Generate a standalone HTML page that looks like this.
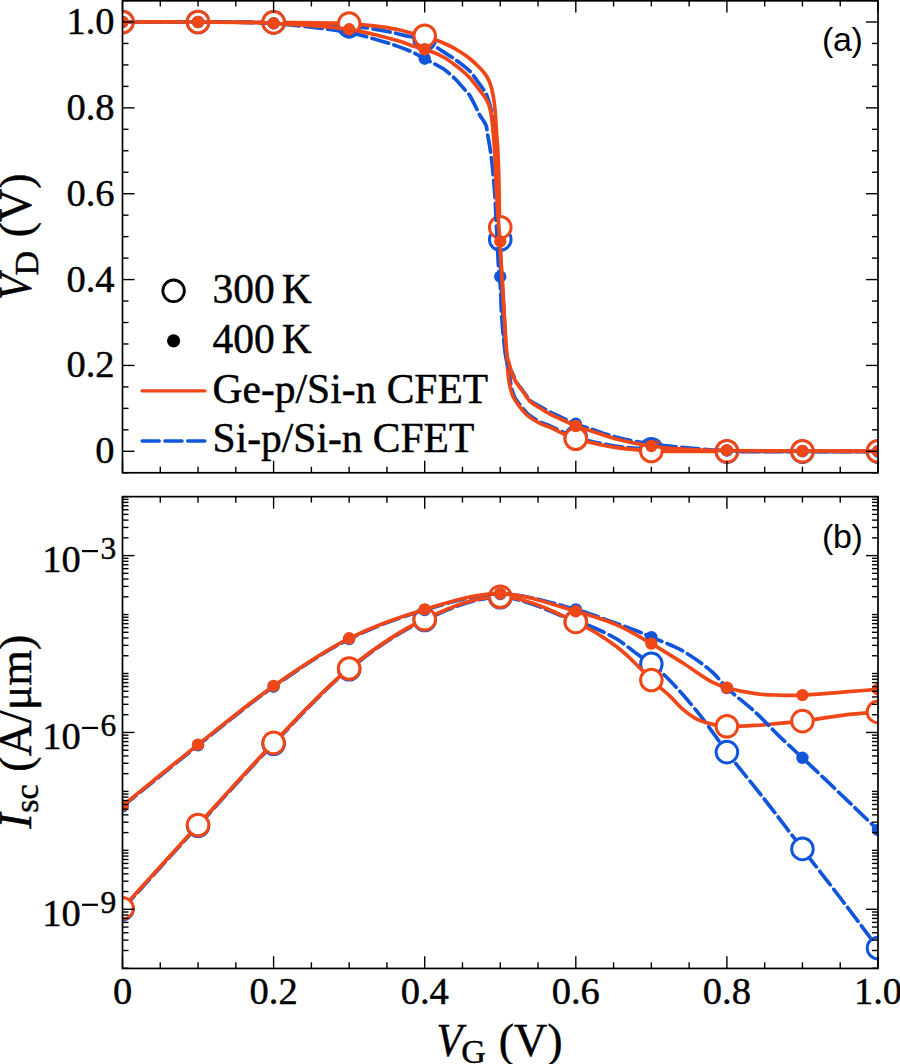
<!DOCTYPE html>
<html><head><meta charset="utf-8"><style>
html,body{margin:0;padding:0;background:#fff;width:900px;height:1064px;overflow:hidden}
svg{display:block}
svg text:not(.ns){stroke:#000;stroke-width:0.45px}
</style></head><body>
<svg width="900" height="1064" viewBox="0 0 900 1064">
<defs><clipPath id="ct"><rect x="122.5" y="0.5349999999999682" width="755.5" height="472.23"/></clipPath>
<clipPath id="cb"><rect x="122.5" y="496.65000000000003" width="755.5" height="471.59999999999997"/></clipPath></defs>
<g clip-path="url(#ct)"><path d="M122.50,22.00C147.68,22.00 172.87,21.88 198.05,22.00C223.23,22.12 248.42,22.03 273.60,22.70C298.79,23.37 334.17,24.96 349.15,26.00C355.50,26.44 357.29,26.56 362.70,27.30C370.87,28.41 384.76,30.93 393.30,32.70C399.51,33.98 404.01,35.36 409.30,36.50C414.47,37.62 419.87,37.53 424.70,39.50C429.69,41.53 433.69,45.38 438.70,48.70C444.53,52.56 451.95,57.12 457.60,61.30C462.49,64.92 467.82,68.97 470.80,72.10C472.65,74.05 473.11,75.21 474.70,77.40C477.25,80.91 482.45,87.63 484.60,91.20C485.86,93.29 486.32,94.13 487.20,96.40C488.70,100.30 490.67,107.31 491.80,112.90C492.94,118.51 493.37,123.49 494.00,130.00C494.84,138.59 495.42,150.00 496.00,160.00C496.58,170.00 497.03,180.46 497.50,190.00C497.93,198.71 498.35,206.71 498.70,215.00C499.05,223.21 499.29,231.51 499.60,239.50C499.89,247.16 500.19,254.09 500.50,262.00C500.85,270.82 501.14,280.51 501.60,290.00C502.07,299.83 502.74,310.46 503.30,320.00C503.81,328.71 504.27,338.02 504.80,345.00C505.18,350.04 505.31,353.53 506.00,358.00C506.75,362.87 508.39,368.22 509.29,373.11C510.12,377.67 510.33,382.30 511.27,386.42C512.11,390.12 512.99,393.65 514.48,396.75C515.86,399.63 517.72,401.86 519.73,404.51C522.02,407.52 525.16,411.46 527.62,413.78C529.40,415.46 530.78,416.34 532.71,417.61C535.00,419.12 537.73,420.76 540.56,422.13C543.64,423.62 546.94,424.53 550.53,426.11C554.90,428.04 560.30,431.04 564.83,433.01C568.80,434.74 572.29,436.19 576.20,437.46C580.20,438.77 583.65,439.59 588.58,440.73C595.75,442.39 605.59,444.60 615.18,446.01C626.29,447.65 639.14,448.78 651.42,449.50C664.07,450.24 677.29,449.98 690.01,450.32C702.44,450.65 710.44,451.23 726.90,451.50C760.21,452.04 827.63,451.57 878.00,451.60" fill="none" stroke="#1156DA" stroke-width="3.7" stroke-linecap="round" stroke-linejoin="round" stroke-dasharray="17.2 5.6"/><circle cx="122.50" cy="22.00" r="10.8" fill="#fff" stroke="#1156DA" stroke-width="3.0"/><circle cx="198.05" cy="22.00" r="10.8" fill="#fff" stroke="#1156DA" stroke-width="3.0"/><circle cx="273.60" cy="22.40" r="10.8" fill="#fff" stroke="#1156DA" stroke-width="3.0"/><circle cx="349.15" cy="26.00" r="10.8" fill="#fff" stroke="#1156DA" stroke-width="3.0"/><circle cx="424.70" cy="39.50" r="10.8" fill="#fff" stroke="#1156DA" stroke-width="3.0"/><circle cx="500.25" cy="239.50" r="10.8" fill="#fff" stroke="#1156DA" stroke-width="3.0"/><circle cx="575.80" cy="437.40" r="10.8" fill="#fff" stroke="#1156DA" stroke-width="3.0"/><circle cx="651.35" cy="449.20" r="10.8" fill="#fff" stroke="#1156DA" stroke-width="3.0"/><circle cx="726.90" cy="451.50" r="10.8" fill="#fff" stroke="#1156DA" stroke-width="3.0"/><circle cx="802.45" cy="451.60" r="10.8" fill="#fff" stroke="#1156DA" stroke-width="3.0"/><circle cx="878.00" cy="451.60" r="10.8" fill="#fff" stroke="#1156DA" stroke-width="3.0"/><path d="M122.50,22.00C147.68,22.00 172.87,21.93 198.05,22.00C223.23,22.07 248.42,22.13 273.60,22.40C298.78,22.67 329.53,22.46 349.15,23.60C361.72,24.33 370.84,25.49 380.00,26.70C387.40,27.68 393.88,28.67 400.00,30.00C405.31,31.16 410.25,33.00 414.70,34.00C418.33,34.82 421.31,34.87 424.70,35.80C428.40,36.81 432.19,38.50 436.00,40.00C439.95,41.56 444.23,43.18 448.00,45.00C451.53,46.70 454.89,48.62 458.00,50.50C460.85,52.23 463.56,54.04 466.00,55.80C468.18,57.37 470.08,58.87 472.00,60.50C473.88,62.10 475.51,63.60 477.40,65.50C479.67,67.79 482.65,70.79 484.60,73.40C486.26,75.62 487.47,77.64 488.60,80.00C489.78,82.46 490.70,85.09 491.50,87.90C492.37,90.98 492.95,94.50 493.50,97.80C494.05,101.07 494.43,104.09 494.80,107.60C495.22,111.67 495.49,116.32 495.80,120.80C496.12,125.45 496.37,130.20 496.70,135.00C497.04,139.93 497.50,144.64 497.80,150.00C498.15,156.19 498.38,162.66 498.60,170.00C498.87,178.99 499.03,190.24 499.20,200.00C499.36,209.31 499.45,219.18 499.60,227.30C499.72,233.84 499.76,239.16 500.00,245.00C500.23,250.73 500.61,255.63 501.00,262.00C501.50,270.18 502.23,280.50 502.80,290.00C503.39,299.83 503.94,310.46 504.50,320.00C505.01,328.71 505.55,337.47 506.00,345.00C506.37,351.21 506.63,356.91 507.00,362.00C507.31,366.15 507.53,369.38 508.00,373.30C508.51,377.58 509.05,382.53 510.00,386.70C510.86,390.48 511.77,394.12 513.30,397.30C514.73,400.27 516.64,402.58 518.70,405.30C521.03,408.37 524.18,412.33 526.70,414.70C528.55,416.44 530.01,417.38 532.00,418.70C534.35,420.25 537.13,421.91 540.00,423.30C543.10,424.80 546.40,425.71 550.00,427.30C554.37,429.23 559.76,432.22 564.30,434.20C568.31,435.95 571.85,437.41 575.80,438.70C579.84,440.02 583.33,440.85 588.30,442.00C595.51,443.67 605.38,445.89 615.00,447.30C626.15,448.94 639.03,450.13 651.35,450.80C664.02,451.49 677.27,451.22 690.00,451.30C702.44,451.38 710.44,451.30 726.90,451.30C760.22,451.30 827.63,451.30 878.00,451.30" fill="none" stroke="#EF4717" stroke-width="3.7" stroke-linecap="round" stroke-linejoin="round"/><circle cx="122.50" cy="22.00" r="10.8" fill="#fff" stroke="#EF4717" stroke-width="3.0"/><circle cx="198.05" cy="22.00" r="10.8" fill="#fff" stroke="#EF4717" stroke-width="3.0"/><circle cx="273.60" cy="22.40" r="10.8" fill="#fff" stroke="#EF4717" stroke-width="3.0"/><circle cx="349.15" cy="23.60" r="10.8" fill="#fff" stroke="#EF4717" stroke-width="3.0"/><circle cx="424.70" cy="35.80" r="10.8" fill="#fff" stroke="#EF4717" stroke-width="3.0"/><circle cx="500.25" cy="227.30" r="10.8" fill="#fff" stroke="#EF4717" stroke-width="3.0"/><circle cx="575.80" cy="438.70" r="10.8" fill="#fff" stroke="#EF4717" stroke-width="3.0"/><circle cx="651.35" cy="451.00" r="10.8" fill="#fff" stroke="#EF4717" stroke-width="3.0"/><circle cx="726.90" cy="451.30" r="10.8" fill="#fff" stroke="#EF4717" stroke-width="3.0"/><circle cx="802.45" cy="451.30" r="10.8" fill="#fff" stroke="#EF4717" stroke-width="3.0"/><circle cx="878.00" cy="451.30" r="10.8" fill="#fff" stroke="#EF4717" stroke-width="3.0"/><path d="M122.50,22.00C147.68,22.00 172.87,21.73 198.05,22.00C223.23,22.27 248.46,21.86 273.60,23.60C298.83,25.35 331.04,29.12 349.15,32.50C359.52,34.43 365.65,36.57 373.30,38.70C380.30,40.65 387.04,42.59 393.30,44.70C398.96,46.61 404.09,48.38 409.30,50.70C414.55,53.04 420.32,56.39 424.70,58.70C427.99,60.43 430.29,61.65 433.30,63.30C436.68,65.15 440.52,66.88 444.00,69.30C447.77,71.93 451.49,75.26 455.00,78.70C458.67,82.30 462.84,87.47 465.50,90.50C467.16,92.38 468.08,93.01 469.50,95.10C471.88,98.60 475.49,106.55 477.40,110.30C478.51,112.48 478.90,113.54 480.00,115.50C481.52,118.22 484.62,121.66 485.90,125.00C487.12,128.18 487.05,131.33 487.70,135.00C488.49,139.49 489.55,144.99 490.30,150.00C491.05,154.99 491.57,159.12 492.20,165.00C493.10,173.37 494.22,185.70 494.90,195.50C495.53,204.58 495.75,213.31 496.20,221.80C496.62,229.78 497.12,237.55 497.50,245.00C497.85,251.91 497.97,259.23 498.40,265.00C498.73,269.42 499.24,272.36 499.60,276.70C500.06,282.12 500.51,289.20 500.80,295.00C501.06,300.25 500.99,304.37 501.30,310.00C501.70,317.28 502.47,327.47 503.20,335.00C503.80,341.22 504.40,346.84 505.20,352.00C505.87,356.36 506.22,360.36 507.50,364.00C508.68,367.35 510.86,370.11 512.36,373.13C513.80,376.04 514.64,378.89 516.34,381.79C518.28,385.10 521.21,388.54 523.62,391.77C525.94,394.85 527.71,398.27 530.52,400.76C533.40,403.30 537.36,404.82 540.78,406.78C544.14,408.70 547.47,410.68 550.85,412.41C554.14,414.10 557.60,415.60 560.76,417.07C563.64,418.41 566.37,419.63 569.05,420.87C571.59,422.04 573.61,423.21 576.43,424.31C580.00,425.71 583.94,426.70 588.85,428.29C596.05,430.61 605.82,434.43 615.44,436.96C626.49,439.86 639.32,442.37 651.61,444.22C664.19,446.12 677.39,447.04 690.08,448.12C702.48,449.18 712.43,450.11 726.90,450.67C747.59,451.47 777.26,451.16 802.45,451.30C827.63,451.44 852.82,451.43 878.00,451.50" fill="none" stroke="#1156DA" stroke-width="3.7" stroke-linecap="round" stroke-linejoin="round" stroke-dasharray="17.2 5.6"/><circle cx="122.50" cy="22.00" r="6.2" fill="#1156DA"/><circle cx="198.05" cy="22.00" r="6.2" fill="#1156DA"/><circle cx="273.60" cy="23.30" r="6.2" fill="#1156DA"/><circle cx="349.15" cy="32.50" r="6.2" fill="#1156DA"/><circle cx="424.70" cy="58.70" r="6.2" fill="#1156DA"/><circle cx="500.25" cy="276.70" r="6.2" fill="#1156DA"/><circle cx="575.80" cy="423.80" r="6.2" fill="#1156DA"/><circle cx="651.35" cy="444.20" r="6.2" fill="#1156DA"/><circle cx="726.90" cy="450.60" r="6.2" fill="#1156DA"/><circle cx="802.45" cy="451.30" r="6.2" fill="#1156DA"/><circle cx="878.00" cy="451.50" r="6.2" fill="#1156DA"/><path d="M122.50,22.00C147.68,22.00 172.87,21.78 198.05,22.00C223.23,22.22 248.44,22.09 273.60,23.30C298.80,24.52 329.59,26.41 349.15,29.30C361.78,31.16 370.85,33.79 380.00,36.00C387.41,37.79 393.88,39.41 400.00,41.30C405.31,42.94 410.25,45.09 414.70,46.50C418.33,47.65 421.51,48.30 424.70,49.30C427.69,50.24 430.25,51.03 433.30,52.30C436.94,53.82 441.33,55.86 445.00,58.00C448.55,60.07 452.04,62.72 455.00,64.90C457.46,66.71 459.39,68.22 461.60,70.10C463.99,72.13 466.59,74.38 468.80,76.70C470.95,78.95 472.80,81.44 474.70,83.80C476.53,86.08 478.31,88.38 480.00,90.60C481.60,92.70 483.25,94.73 484.60,96.80C485.86,98.73 486.97,100.50 487.90,102.60C488.90,104.87 489.66,107.32 490.30,110.00C491.04,113.06 491.42,116.32 491.90,120.00C492.48,124.49 492.95,130.00 493.40,135.00C493.85,140.00 494.26,144.64 494.60,150.00C494.99,156.18 495.15,162.66 495.50,170.00C495.93,178.99 496.44,190.46 497.00,200.00C497.51,208.72 498.17,217.54 498.70,225.00C499.13,231.04 499.53,235.62 499.90,241.40C500.31,247.87 500.57,254.61 501.00,262.00C501.51,270.62 502.23,280.50 502.80,290.00C503.39,299.83 503.94,310.46 504.50,320.00C505.01,328.71 505.39,338.02 506.00,345.00C506.44,350.04 506.87,354.93 507.50,358.00C507.86,359.74 508.20,360.33 508.70,362.00C509.53,364.81 510.70,369.82 512.00,373.30C513.17,376.44 514.29,379.09 516.00,382.00C517.95,385.31 520.92,388.72 523.30,392.00C525.59,395.15 527.26,398.65 530.00,401.30C532.80,404.01 536.64,405.87 540.00,408.00C543.31,410.10 546.62,412.20 550.00,414.00C553.29,415.75 556.82,417.22 560.00,418.70C562.89,420.04 565.61,421.25 568.30,422.50C570.87,423.69 572.94,424.88 575.80,426.00C579.40,427.41 583.35,428.40 588.30,430.00C595.53,432.34 605.33,436.16 615.00,438.70C626.11,441.61 639.00,444.21 651.35,446.00C663.99,447.84 677.25,448.75 690.00,449.50C702.43,450.23 712.42,450.26 726.90,450.50C747.62,450.85 777.27,450.88 802.45,451.00C827.63,451.12 852.82,451.13 878.00,451.20" fill="none" stroke="#EF4717" stroke-width="3.7" stroke-linecap="round" stroke-linejoin="round"/><circle cx="122.50" cy="22.00" r="6.2" fill="#EF4717"/><circle cx="198.05" cy="22.00" r="6.2" fill="#EF4717"/><circle cx="273.60" cy="23.30" r="6.2" fill="#EF4717"/><circle cx="349.15" cy="29.30" r="6.2" fill="#EF4717"/><circle cx="424.70" cy="49.30" r="6.2" fill="#EF4717"/><circle cx="500.25" cy="241.40" r="6.2" fill="#EF4717"/><circle cx="575.80" cy="426.00" r="6.2" fill="#EF4717"/><circle cx="651.35" cy="446.00" r="6.2" fill="#EF4717"/><circle cx="726.90" cy="450.20" r="6.2" fill="#EF4717"/><circle cx="802.45" cy="451.00" r="6.2" fill="#EF4717"/><circle cx="878.00" cy="451.20" r="6.2" fill="#EF4717"/></g><g clip-path="url(#cb)"><path d="M122.50,909.10C147.68,881.33 172.82,853.42 198.05,825.80C223.18,798.29 248.09,770.09 273.60,743.70C298.47,717.97 322.86,690.47 349.15,669.30C373.40,649.78 398.61,632.12 424.70,620.00C449.09,608.66 475.10,597.07 500.25,597.30C525.47,597.53 560.87,616.77 575.80,621.50C582.08,623.49 584.03,623.65 589.20,625.70C596.83,628.72 608.35,633.97 616.70,639.00C624.43,643.66 631.52,650.01 637.80,654.50C642.79,658.06 646.66,660.21 651.35,663.90C656.95,668.31 662.54,673.10 668.90,679.50C677.58,688.24 689.57,702.24 697.80,712.40C704.49,720.66 709.91,728.50 715.10,735.60C719.44,741.54 721.73,745.25 726.90,752.10C735.88,764.00 752.43,783.89 765.00,800.00C777.61,816.16 789.94,832.64 802.45,848.90C814.94,865.14 827.50,881.10 840.00,897.50C852.68,914.13 865.33,931.17 878.00,948.00" fill="none" stroke="#1156DA" stroke-width="3.7" stroke-linecap="round" stroke-linejoin="round" stroke-dasharray="17.2 5.6"/><circle cx="122.50" cy="909.10" r="10.8" fill="#fff" stroke="#1156DA" stroke-width="3.0"/><circle cx="198.05" cy="825.80" r="10.8" fill="#fff" stroke="#1156DA" stroke-width="3.0"/><circle cx="273.60" cy="743.70" r="10.8" fill="#fff" stroke="#1156DA" stroke-width="3.0"/><circle cx="349.15" cy="669.30" r="10.8" fill="#fff" stroke="#1156DA" stroke-width="3.0"/><circle cx="424.70" cy="620.00" r="10.8" fill="#fff" stroke="#1156DA" stroke-width="3.0"/><circle cx="500.25" cy="597.30" r="10.8" fill="#fff" stroke="#1156DA" stroke-width="3.0"/><circle cx="575.80" cy="621.50" r="10.8" fill="#fff" stroke="#1156DA" stroke-width="3.0"/><circle cx="651.35" cy="663.90" r="10.8" fill="#fff" stroke="#1156DA" stroke-width="3.0"/><circle cx="726.90" cy="752.10" r="10.8" fill="#fff" stroke="#1156DA" stroke-width="3.0"/><circle cx="802.45" cy="848.90" r="10.8" fill="#fff" stroke="#1156DA" stroke-width="3.0"/><circle cx="878.00" cy="948.00" r="10.8" fill="#fff" stroke="#1156DA" stroke-width="3.0"/><path d="M122.50,908.30C147.68,880.53 172.82,852.62 198.05,825.00C223.18,797.49 248.09,769.29 273.60,742.90C298.47,717.17 322.86,689.65 349.15,668.50C373.39,649.00 398.62,631.39 424.70,619.30C449.10,608.00 475.13,596.31 500.25,596.70C525.50,597.09 554.90,612.20 575.80,621.90C592.01,629.42 605.61,638.54 616.70,646.80C625.24,653.16 631.64,659.82 637.80,665.80C642.92,670.78 646.42,675.31 651.35,680.00C656.71,685.09 663.43,690.01 668.90,695.10C674.04,699.88 678.29,705.40 683.30,709.60C687.96,713.51 692.65,717.19 697.80,719.70C702.80,722.14 708.60,723.49 713.70,724.60C718.26,725.59 721.64,726.05 726.90,726.30C734.62,726.67 746.56,725.93 755.60,725.40C763.72,724.92 770.95,724.11 778.70,723.40C786.56,722.68 793.53,722.18 802.45,721.10C814.02,719.70 829.28,716.86 842.20,715.30C854.43,713.83 866.07,713.03 878.00,711.90" fill="none" stroke="#EF4717" stroke-width="3.7" stroke-linecap="round" stroke-linejoin="round"/><circle cx="122.50" cy="908.30" r="10.8" fill="#fff" stroke="#EF4717" stroke-width="3.0"/><circle cx="198.05" cy="825.00" r="10.8" fill="#fff" stroke="#EF4717" stroke-width="3.0"/><circle cx="273.60" cy="742.90" r="10.8" fill="#fff" stroke="#EF4717" stroke-width="3.0"/><circle cx="349.15" cy="668.50" r="10.8" fill="#fff" stroke="#EF4717" stroke-width="3.0"/><circle cx="424.70" cy="619.30" r="10.8" fill="#fff" stroke="#EF4717" stroke-width="3.0"/><circle cx="500.25" cy="596.70" r="10.8" fill="#fff" stroke="#EF4717" stroke-width="3.0"/><circle cx="575.80" cy="621.90" r="10.8" fill="#fff" stroke="#EF4717" stroke-width="3.0"/><circle cx="651.35" cy="680.00" r="10.8" fill="#fff" stroke="#EF4717" stroke-width="3.0"/><circle cx="726.90" cy="726.30" r="10.8" fill="#fff" stroke="#EF4717" stroke-width="3.0"/><circle cx="802.45" cy="721.10" r="10.8" fill="#fff" stroke="#EF4717" stroke-width="3.0"/><circle cx="878.00" cy="711.90" r="10.8" fill="#fff" stroke="#EF4717" stroke-width="3.0"/><path d="M122.50,806.50C147.68,786.13 172.77,765.44 198.05,745.40C223.14,725.51 247.97,704.67 273.60,686.70C298.36,669.34 323.32,652.06 349.15,639.10C373.75,626.76 399.21,617.56 424.70,610.00C449.59,602.62 475.06,594.08 500.25,594.00C525.43,593.92 556.04,604.15 575.80,609.50C588.92,613.05 597.50,616.70 608.00,620.40C618.15,623.97 629.83,628.14 637.80,631.30C643.23,633.45 645.89,634.72 651.35,637.10C659.76,640.77 673.20,645.52 683.30,651.30C693.49,657.13 704.46,665.14 712.20,672.00C718.25,677.36 720.98,682.30 726.90,688.00C734.70,695.50 746.71,704.18 755.60,712.40C763.89,720.06 770.88,728.02 778.70,735.60C786.50,743.15 793.65,749.50 802.45,757.80C813.56,768.27 827.46,781.52 840.00,793.50C852.64,805.58 865.33,817.83 878.00,830.00" fill="none" stroke="#1156DA" stroke-width="3.7" stroke-linecap="round" stroke-linejoin="round" stroke-dasharray="17.2 5.6"/><circle cx="122.50" cy="806.50" r="6.2" fill="#1156DA"/><circle cx="198.05" cy="745.40" r="6.2" fill="#1156DA"/><circle cx="273.60" cy="686.70" r="6.2" fill="#1156DA"/><circle cx="349.15" cy="639.10" r="6.2" fill="#1156DA"/><circle cx="424.70" cy="610.00" r="6.2" fill="#1156DA"/><circle cx="500.25" cy="594.00" r="6.2" fill="#1156DA"/><circle cx="575.80" cy="609.50" r="6.2" fill="#1156DA"/><circle cx="651.35" cy="637.10" r="6.2" fill="#1156DA"/><circle cx="726.90" cy="688.00" r="6.2" fill="#1156DA"/><circle cx="802.45" cy="757.80" r="6.2" fill="#1156DA"/><circle cx="878.00" cy="830.00" r="6.2" fill="#1156DA"/><path d="M122.50,805.70C147.68,785.33 172.77,764.64 198.05,744.60C223.14,724.71 247.97,703.87 273.60,685.90C298.36,668.54 323.31,651.22 349.15,638.30C373.74,626.00 399.21,616.89 424.70,609.40C449.60,602.09 475.10,593.30 500.25,593.60C525.47,593.90 554.56,605.30 575.80,611.30C591.63,615.78 603.86,619.35 616.70,624.90C628.97,630.20 640.12,637.12 651.35,643.60C662.31,649.93 672.96,656.75 683.30,663.30C693.21,669.58 703.99,677.92 712.20,682.10C717.75,684.92 721.11,686.00 726.90,687.70C734.81,690.02 746.51,692.48 755.60,693.70C763.68,694.78 770.94,694.87 778.70,695.10C786.56,695.34 793.53,695.43 802.45,695.10C814.01,694.68 829.30,693.19 842.20,692.20C854.45,691.26 866.07,690.27 878.00,689.30" fill="none" stroke="#EF4717" stroke-width="3.7" stroke-linecap="round" stroke-linejoin="round"/><circle cx="122.50" cy="805.70" r="6.2" fill="#EF4717"/><circle cx="198.05" cy="744.60" r="6.2" fill="#EF4717"/><circle cx="273.60" cy="685.90" r="6.2" fill="#EF4717"/><circle cx="349.15" cy="638.30" r="6.2" fill="#EF4717"/><circle cx="424.70" cy="609.40" r="6.2" fill="#EF4717"/><circle cx="500.25" cy="593.60" r="6.2" fill="#EF4717"/><circle cx="575.80" cy="611.30" r="6.2" fill="#EF4717"/><circle cx="651.35" cy="643.60" r="6.2" fill="#EF4717"/><circle cx="726.90" cy="687.70" r="6.2" fill="#EF4717"/><circle cx="802.45" cy="695.10" r="6.2" fill="#EF4717"/><circle cx="878.00" cy="689.30" r="6.2" fill="#EF4717"/></g><g stroke="#000" stroke-width="1.4" fill="none"><line x1="122.50" y1="0.53" x2="122.50" y2="12.53"/><line x1="122.50" y1="472.76" x2="122.50" y2="460.76"/><line x1="160.28" y1="0.53" x2="160.28" y2="6.53"/><line x1="160.28" y1="472.76" x2="160.28" y2="466.76"/><line x1="198.05" y1="0.53" x2="198.05" y2="6.53"/><line x1="198.05" y1="472.76" x2="198.05" y2="466.76"/><line x1="235.83" y1="0.53" x2="235.83" y2="6.53"/><line x1="235.83" y1="472.76" x2="235.83" y2="466.76"/><line x1="273.60" y1="0.53" x2="273.60" y2="12.53"/><line x1="273.60" y1="472.76" x2="273.60" y2="460.76"/><line x1="311.38" y1="0.53" x2="311.38" y2="6.53"/><line x1="311.38" y1="472.76" x2="311.38" y2="466.76"/><line x1="349.15" y1="0.53" x2="349.15" y2="6.53"/><line x1="349.15" y1="472.76" x2="349.15" y2="466.76"/><line x1="386.93" y1="0.53" x2="386.93" y2="6.53"/><line x1="386.93" y1="472.76" x2="386.93" y2="466.76"/><line x1="424.70" y1="0.53" x2="424.70" y2="12.53"/><line x1="424.70" y1="472.76" x2="424.70" y2="460.76"/><line x1="462.48" y1="0.53" x2="462.48" y2="6.53"/><line x1="462.48" y1="472.76" x2="462.48" y2="466.76"/><line x1="500.25" y1="0.53" x2="500.25" y2="6.53"/><line x1="500.25" y1="472.76" x2="500.25" y2="466.76"/><line x1="538.03" y1="0.53" x2="538.03" y2="6.53"/><line x1="538.03" y1="472.76" x2="538.03" y2="466.76"/><line x1="575.80" y1="0.53" x2="575.80" y2="12.53"/><line x1="575.80" y1="472.76" x2="575.80" y2="460.76"/><line x1="613.58" y1="0.53" x2="613.58" y2="6.53"/><line x1="613.58" y1="472.76" x2="613.58" y2="466.76"/><line x1="651.35" y1="0.53" x2="651.35" y2="6.53"/><line x1="651.35" y1="472.76" x2="651.35" y2="466.76"/><line x1="689.12" y1="0.53" x2="689.12" y2="6.53"/><line x1="689.12" y1="472.76" x2="689.12" y2="466.76"/><line x1="726.90" y1="0.53" x2="726.90" y2="12.53"/><line x1="726.90" y1="472.76" x2="726.90" y2="460.76"/><line x1="764.68" y1="0.53" x2="764.68" y2="6.53"/><line x1="764.68" y1="472.76" x2="764.68" y2="466.76"/><line x1="802.45" y1="0.53" x2="802.45" y2="6.53"/><line x1="802.45" y1="472.76" x2="802.45" y2="466.76"/><line x1="840.23" y1="0.53" x2="840.23" y2="6.53"/><line x1="840.23" y1="472.76" x2="840.23" y2="466.76"/><line x1="878.00" y1="0.53" x2="878.00" y2="12.53"/><line x1="878.00" y1="472.76" x2="878.00" y2="460.76"/><line x1="122.50" y1="472.76" x2="128.50" y2="472.76"/><line x1="878.00" y1="472.76" x2="872.00" y2="472.76"/><line x1="122.50" y1="451.30" x2="134.50" y2="451.30"/><line x1="878.00" y1="451.30" x2="866.00" y2="451.30"/><line x1="122.50" y1="429.84" x2="128.50" y2="429.84"/><line x1="878.00" y1="429.84" x2="872.00" y2="429.84"/><line x1="122.50" y1="408.37" x2="128.50" y2="408.37"/><line x1="878.00" y1="408.37" x2="872.00" y2="408.37"/><line x1="122.50" y1="386.90" x2="128.50" y2="386.90"/><line x1="878.00" y1="386.90" x2="872.00" y2="386.90"/><line x1="122.50" y1="365.44" x2="134.50" y2="365.44"/><line x1="878.00" y1="365.44" x2="866.00" y2="365.44"/><line x1="122.50" y1="343.98" x2="128.50" y2="343.98"/><line x1="878.00" y1="343.98" x2="872.00" y2="343.98"/><line x1="122.50" y1="322.51" x2="128.50" y2="322.51"/><line x1="878.00" y1="322.51" x2="872.00" y2="322.51"/><line x1="122.50" y1="301.04" x2="128.50" y2="301.04"/><line x1="878.00" y1="301.04" x2="872.00" y2="301.04"/><line x1="122.50" y1="279.58" x2="134.50" y2="279.58"/><line x1="878.00" y1="279.58" x2="866.00" y2="279.58"/><line x1="122.50" y1="258.12" x2="128.50" y2="258.12"/><line x1="878.00" y1="258.12" x2="872.00" y2="258.12"/><line x1="122.50" y1="236.65" x2="128.50" y2="236.65"/><line x1="878.00" y1="236.65" x2="872.00" y2="236.65"/><line x1="122.50" y1="215.18" x2="128.50" y2="215.18"/><line x1="878.00" y1="215.18" x2="872.00" y2="215.18"/><line x1="122.50" y1="193.72" x2="134.50" y2="193.72"/><line x1="878.00" y1="193.72" x2="866.00" y2="193.72"/><line x1="122.50" y1="172.25" x2="128.50" y2="172.25"/><line x1="878.00" y1="172.25" x2="872.00" y2="172.25"/><line x1="122.50" y1="150.79" x2="128.50" y2="150.79"/><line x1="878.00" y1="150.79" x2="872.00" y2="150.79"/><line x1="122.50" y1="129.32" x2="128.50" y2="129.32"/><line x1="878.00" y1="129.32" x2="872.00" y2="129.32"/><line x1="122.50" y1="107.86" x2="134.50" y2="107.86"/><line x1="878.00" y1="107.86" x2="866.00" y2="107.86"/><line x1="122.50" y1="86.39" x2="128.50" y2="86.39"/><line x1="878.00" y1="86.39" x2="872.00" y2="86.39"/><line x1="122.50" y1="64.93" x2="128.50" y2="64.93"/><line x1="878.00" y1="64.93" x2="872.00" y2="64.93"/><line x1="122.50" y1="43.46" x2="128.50" y2="43.46"/><line x1="878.00" y1="43.46" x2="872.00" y2="43.46"/><line x1="122.50" y1="22.00" x2="134.50" y2="22.00"/><line x1="878.00" y1="22.00" x2="866.00" y2="22.00"/><line x1="122.50" y1="0.53" x2="128.50" y2="0.53"/><line x1="878.00" y1="0.53" x2="872.00" y2="0.53"/><line x1="122.50" y1="496.65" x2="122.50" y2="508.65"/><line x1="122.50" y1="968.25" x2="122.50" y2="956.25"/><line x1="160.28" y1="496.65" x2="160.28" y2="502.65"/><line x1="160.28" y1="968.25" x2="160.28" y2="962.25"/><line x1="198.05" y1="496.65" x2="198.05" y2="502.65"/><line x1="198.05" y1="968.25" x2="198.05" y2="962.25"/><line x1="235.83" y1="496.65" x2="235.83" y2="502.65"/><line x1="235.83" y1="968.25" x2="235.83" y2="962.25"/><line x1="273.60" y1="496.65" x2="273.60" y2="508.65"/><line x1="273.60" y1="968.25" x2="273.60" y2="956.25"/><line x1="311.38" y1="496.65" x2="311.38" y2="502.65"/><line x1="311.38" y1="968.25" x2="311.38" y2="962.25"/><line x1="349.15" y1="496.65" x2="349.15" y2="502.65"/><line x1="349.15" y1="968.25" x2="349.15" y2="962.25"/><line x1="386.93" y1="496.65" x2="386.93" y2="502.65"/><line x1="386.93" y1="968.25" x2="386.93" y2="962.25"/><line x1="424.70" y1="496.65" x2="424.70" y2="508.65"/><line x1="424.70" y1="968.25" x2="424.70" y2="956.25"/><line x1="462.48" y1="496.65" x2="462.48" y2="502.65"/><line x1="462.48" y1="968.25" x2="462.48" y2="962.25"/><line x1="500.25" y1="496.65" x2="500.25" y2="502.65"/><line x1="500.25" y1="968.25" x2="500.25" y2="962.25"/><line x1="538.03" y1="496.65" x2="538.03" y2="502.65"/><line x1="538.03" y1="968.25" x2="538.03" y2="962.25"/><line x1="575.80" y1="496.65" x2="575.80" y2="508.65"/><line x1="575.80" y1="968.25" x2="575.80" y2="956.25"/><line x1="613.58" y1="496.65" x2="613.58" y2="502.65"/><line x1="613.58" y1="968.25" x2="613.58" y2="962.25"/><line x1="651.35" y1="496.65" x2="651.35" y2="502.65"/><line x1="651.35" y1="968.25" x2="651.35" y2="962.25"/><line x1="689.12" y1="496.65" x2="689.12" y2="502.65"/><line x1="689.12" y1="968.25" x2="689.12" y2="962.25"/><line x1="726.90" y1="496.65" x2="726.90" y2="508.65"/><line x1="726.90" y1="968.25" x2="726.90" y2="956.25"/><line x1="764.68" y1="496.65" x2="764.68" y2="502.65"/><line x1="764.68" y1="968.25" x2="764.68" y2="962.25"/><line x1="802.45" y1="496.65" x2="802.45" y2="502.65"/><line x1="802.45" y1="968.25" x2="802.45" y2="962.25"/><line x1="840.23" y1="496.65" x2="840.23" y2="502.65"/><line x1="840.23" y1="968.25" x2="840.23" y2="962.25"/><line x1="878.00" y1="496.65" x2="878.00" y2="508.65"/><line x1="878.00" y1="968.25" x2="878.00" y2="956.25"/><line x1="122.50" y1="968.25" x2="128.50" y2="968.25"/><line x1="878.00" y1="968.25" x2="872.00" y2="968.25"/><line x1="122.50" y1="950.50" x2="128.50" y2="950.50"/><line x1="878.00" y1="950.50" x2="872.00" y2="950.50"/><line x1="122.50" y1="940.12" x2="128.50" y2="940.12"/><line x1="878.00" y1="940.12" x2="872.00" y2="940.12"/><line x1="122.50" y1="932.76" x2="128.50" y2="932.76"/><line x1="878.00" y1="932.76" x2="872.00" y2="932.76"/><line x1="122.50" y1="927.05" x2="128.50" y2="927.05"/><line x1="878.00" y1="927.05" x2="872.00" y2="927.05"/><line x1="122.50" y1="922.38" x2="128.50" y2="922.38"/><line x1="878.00" y1="922.38" x2="872.00" y2="922.38"/><line x1="122.50" y1="918.43" x2="128.50" y2="918.43"/><line x1="878.00" y1="918.43" x2="872.00" y2="918.43"/><line x1="122.50" y1="915.01" x2="128.50" y2="915.01"/><line x1="878.00" y1="915.01" x2="872.00" y2="915.01"/><line x1="122.50" y1="912.00" x2="128.50" y2="912.00"/><line x1="878.00" y1="912.00" x2="872.00" y2="912.00"/><line x1="122.50" y1="909.30" x2="134.50" y2="909.30"/><line x1="878.00" y1="909.30" x2="866.00" y2="909.30"/><line x1="122.50" y1="891.55" x2="128.50" y2="891.55"/><line x1="878.00" y1="891.55" x2="872.00" y2="891.55"/><line x1="122.50" y1="881.17" x2="128.50" y2="881.17"/><line x1="878.00" y1="881.17" x2="872.00" y2="881.17"/><line x1="122.50" y1="873.81" x2="128.50" y2="873.81"/><line x1="878.00" y1="873.81" x2="872.00" y2="873.81"/><line x1="122.50" y1="868.10" x2="128.50" y2="868.10"/><line x1="878.00" y1="868.10" x2="872.00" y2="868.10"/><line x1="122.50" y1="863.43" x2="128.50" y2="863.43"/><line x1="878.00" y1="863.43" x2="872.00" y2="863.43"/><line x1="122.50" y1="859.48" x2="128.50" y2="859.48"/><line x1="878.00" y1="859.48" x2="872.00" y2="859.48"/><line x1="122.50" y1="856.06" x2="128.50" y2="856.06"/><line x1="878.00" y1="856.06" x2="872.00" y2="856.06"/><line x1="122.50" y1="853.05" x2="128.50" y2="853.05"/><line x1="878.00" y1="853.05" x2="872.00" y2="853.05"/><line x1="122.50" y1="850.35" x2="128.50" y2="850.35"/><line x1="878.00" y1="850.35" x2="872.00" y2="850.35"/><line x1="122.50" y1="832.60" x2="128.50" y2="832.60"/><line x1="878.00" y1="832.60" x2="872.00" y2="832.60"/><line x1="122.50" y1="822.22" x2="128.50" y2="822.22"/><line x1="878.00" y1="822.22" x2="872.00" y2="822.22"/><line x1="122.50" y1="814.86" x2="128.50" y2="814.86"/><line x1="878.00" y1="814.86" x2="872.00" y2="814.86"/><line x1="122.50" y1="809.15" x2="128.50" y2="809.15"/><line x1="878.00" y1="809.15" x2="872.00" y2="809.15"/><line x1="122.50" y1="804.48" x2="128.50" y2="804.48"/><line x1="878.00" y1="804.48" x2="872.00" y2="804.48"/><line x1="122.50" y1="800.53" x2="128.50" y2="800.53"/><line x1="878.00" y1="800.53" x2="872.00" y2="800.53"/><line x1="122.50" y1="797.11" x2="128.50" y2="797.11"/><line x1="878.00" y1="797.11" x2="872.00" y2="797.11"/><line x1="122.50" y1="794.10" x2="128.50" y2="794.10"/><line x1="878.00" y1="794.10" x2="872.00" y2="794.10"/><line x1="122.50" y1="791.40" x2="128.50" y2="791.40"/><line x1="878.00" y1="791.40" x2="872.00" y2="791.40"/><line x1="122.50" y1="773.65" x2="128.50" y2="773.65"/><line x1="878.00" y1="773.65" x2="872.00" y2="773.65"/><line x1="122.50" y1="763.27" x2="128.50" y2="763.27"/><line x1="878.00" y1="763.27" x2="872.00" y2="763.27"/><line x1="122.50" y1="755.91" x2="128.50" y2="755.91"/><line x1="878.00" y1="755.91" x2="872.00" y2="755.91"/><line x1="122.50" y1="750.20" x2="128.50" y2="750.20"/><line x1="878.00" y1="750.20" x2="872.00" y2="750.20"/><line x1="122.50" y1="745.53" x2="128.50" y2="745.53"/><line x1="878.00" y1="745.53" x2="872.00" y2="745.53"/><line x1="122.50" y1="741.58" x2="128.50" y2="741.58"/><line x1="878.00" y1="741.58" x2="872.00" y2="741.58"/><line x1="122.50" y1="738.16" x2="128.50" y2="738.16"/><line x1="878.00" y1="738.16" x2="872.00" y2="738.16"/><line x1="122.50" y1="735.15" x2="128.50" y2="735.15"/><line x1="878.00" y1="735.15" x2="872.00" y2="735.15"/><line x1="122.50" y1="732.45" x2="134.50" y2="732.45"/><line x1="878.00" y1="732.45" x2="866.00" y2="732.45"/><line x1="122.50" y1="714.70" x2="128.50" y2="714.70"/><line x1="878.00" y1="714.70" x2="872.00" y2="714.70"/><line x1="122.50" y1="704.32" x2="128.50" y2="704.32"/><line x1="878.00" y1="704.32" x2="872.00" y2="704.32"/><line x1="122.50" y1="696.96" x2="128.50" y2="696.96"/><line x1="878.00" y1="696.96" x2="872.00" y2="696.96"/><line x1="122.50" y1="691.25" x2="128.50" y2="691.25"/><line x1="878.00" y1="691.25" x2="872.00" y2="691.25"/><line x1="122.50" y1="686.58" x2="128.50" y2="686.58"/><line x1="878.00" y1="686.58" x2="872.00" y2="686.58"/><line x1="122.50" y1="682.63" x2="128.50" y2="682.63"/><line x1="878.00" y1="682.63" x2="872.00" y2="682.63"/><line x1="122.50" y1="679.21" x2="128.50" y2="679.21"/><line x1="878.00" y1="679.21" x2="872.00" y2="679.21"/><line x1="122.50" y1="676.20" x2="128.50" y2="676.20"/><line x1="878.00" y1="676.20" x2="872.00" y2="676.20"/><line x1="122.50" y1="673.50" x2="128.50" y2="673.50"/><line x1="878.00" y1="673.50" x2="872.00" y2="673.50"/><line x1="122.50" y1="655.75" x2="128.50" y2="655.75"/><line x1="878.00" y1="655.75" x2="872.00" y2="655.75"/><line x1="122.50" y1="645.37" x2="128.50" y2="645.37"/><line x1="878.00" y1="645.37" x2="872.00" y2="645.37"/><line x1="122.50" y1="638.01" x2="128.50" y2="638.01"/><line x1="878.00" y1="638.01" x2="872.00" y2="638.01"/><line x1="122.50" y1="632.30" x2="128.50" y2="632.30"/><line x1="878.00" y1="632.30" x2="872.00" y2="632.30"/><line x1="122.50" y1="627.63" x2="128.50" y2="627.63"/><line x1="878.00" y1="627.63" x2="872.00" y2="627.63"/><line x1="122.50" y1="623.68" x2="128.50" y2="623.68"/><line x1="878.00" y1="623.68" x2="872.00" y2="623.68"/><line x1="122.50" y1="620.26" x2="128.50" y2="620.26"/><line x1="878.00" y1="620.26" x2="872.00" y2="620.26"/><line x1="122.50" y1="617.25" x2="128.50" y2="617.25"/><line x1="878.00" y1="617.25" x2="872.00" y2="617.25"/><line x1="122.50" y1="614.55" x2="128.50" y2="614.55"/><line x1="878.00" y1="614.55" x2="872.00" y2="614.55"/><line x1="122.50" y1="596.80" x2="128.50" y2="596.80"/><line x1="878.00" y1="596.80" x2="872.00" y2="596.80"/><line x1="122.50" y1="586.42" x2="128.50" y2="586.42"/><line x1="878.00" y1="586.42" x2="872.00" y2="586.42"/><line x1="122.50" y1="579.06" x2="128.50" y2="579.06"/><line x1="878.00" y1="579.06" x2="872.00" y2="579.06"/><line x1="122.50" y1="573.35" x2="128.50" y2="573.35"/><line x1="878.00" y1="573.35" x2="872.00" y2="573.35"/><line x1="122.50" y1="568.68" x2="128.50" y2="568.68"/><line x1="878.00" y1="568.68" x2="872.00" y2="568.68"/><line x1="122.50" y1="564.73" x2="128.50" y2="564.73"/><line x1="878.00" y1="564.73" x2="872.00" y2="564.73"/><line x1="122.50" y1="561.31" x2="128.50" y2="561.31"/><line x1="878.00" y1="561.31" x2="872.00" y2="561.31"/><line x1="122.50" y1="558.30" x2="128.50" y2="558.30"/><line x1="878.00" y1="558.30" x2="872.00" y2="558.30"/><line x1="122.50" y1="555.60" x2="134.50" y2="555.60"/><line x1="878.00" y1="555.60" x2="866.00" y2="555.60"/><line x1="122.50" y1="537.85" x2="128.50" y2="537.85"/><line x1="878.00" y1="537.85" x2="872.00" y2="537.85"/><line x1="122.50" y1="527.47" x2="128.50" y2="527.47"/><line x1="878.00" y1="527.47" x2="872.00" y2="527.47"/><line x1="122.50" y1="520.11" x2="128.50" y2="520.11"/><line x1="878.00" y1="520.11" x2="872.00" y2="520.11"/><line x1="122.50" y1="514.40" x2="128.50" y2="514.40"/><line x1="878.00" y1="514.40" x2="872.00" y2="514.40"/><line x1="122.50" y1="509.73" x2="128.50" y2="509.73"/><line x1="878.00" y1="509.73" x2="872.00" y2="509.73"/><line x1="122.50" y1="505.78" x2="128.50" y2="505.78"/><line x1="878.00" y1="505.78" x2="872.00" y2="505.78"/><line x1="122.50" y1="502.36" x2="128.50" y2="502.36"/><line x1="878.00" y1="502.36" x2="872.00" y2="502.36"/><line x1="122.50" y1="499.35" x2="128.50" y2="499.35"/><line x1="878.00" y1="499.35" x2="872.00" y2="499.35"/><line x1="122.50" y1="496.65" x2="128.50" y2="496.65"/><line x1="878.00" y1="496.65" x2="872.00" y2="496.65"/></g><rect x="122.50" y="0.80" width="755.50" height="471.96" fill="none" stroke="#000" stroke-width="1.7"/><rect x="122.50" y="496.65" width="755.50" height="471.80" fill="none" stroke="#000" stroke-width="1.7"/><g style='font-family:"Liberation Serif",serif' font-size="38.5" fill="#000"><text x="114.6" y="463.30" text-anchor="end">0</text><text x="114.6" y="377.44" text-anchor="end">0.2</text><text x="114.6" y="291.58" text-anchor="end">0.4</text><text x="114.6" y="205.72" text-anchor="end">0.6</text><text x="114.6" y="119.86" text-anchor="end">0.8</text><text x="114.6" y="34.00" text-anchor="end">1.0</text><text x="122.50" y="1004.4" text-anchor="middle">0</text><text x="273.60" y="1004.4" text-anchor="middle">0.2</text><text x="424.70" y="1004.4" text-anchor="middle">0.4</text><text x="575.80" y="1004.4" text-anchor="middle">0.6</text><text x="726.90" y="1004.4" text-anchor="middle">0.8</text><text x="878.00" y="1004.4" text-anchor="middle">1.0</text><text x="42.2" y="572.45">10</text><text x="100.5" y="559.10" font-size="31.5">3</text><rect x="82" y="550.00" width="16" height="2.2"/><text x="42.2" y="749.30">10</text><text x="100.5" y="735.95" font-size="31.5">6</text><rect x="82" y="726.85" width="16" height="2.2"/><text x="42.2" y="926.15">10</text><text x="100.5" y="912.80" font-size="31.5">9</text><rect x="82" y="903.70" width="16" height="2.2"/></g><g style='font-family:"Liberation Serif",serif'><text transform="rotate(-90) translate(-300.1,30.9) scale(0.92,1)" font-size="46" font-style="italic">V</text><text transform="rotate(-90)" x="-275.6" y="37.6" font-size="34">D</text><text transform="rotate(-90)" x="-237.3" y="30.9" font-size="46">(V)</text><text transform="rotate(-90)" x="-828.7" y="31.0" font-size="46" font-style="italic">I</text><text transform="rotate(-90)" x="-812.8" y="38.1" font-size="34">sc</text><text transform="rotate(-90)" x="-771.7" y="31.0" font-size="46">(A/μm)</text><text transform="translate(436.4,1056.0) scale(0.92,1)" font-size="46" font-style="italic">V</text><text x="461.3" y="1063.2" font-size="34">G</text><text x="498.8" y="1056.0" font-size="46">(V)</text></g><text style='font-family:"Liberation Sans",sans-serif' font-size="34" x="862.4" y="50.8" text-anchor="end" class="ns" letter-spacing="-0.4">(a)</text><text style='font-family:"Liberation Sans",sans-serif' font-size="34" x="862.4" y="548" text-anchor="end" class="ns" letter-spacing="-0.4">(b)</text><circle cx="173.6" cy="290.8" r="10.8" fill="none" stroke="#000" stroke-width="2.8"/><circle cx="173.6" cy="340.8" r="6.6" fill="#000"/><line x1="142.1" y1="390.9" x2="204.9" y2="390.9" stroke="#EF4717" stroke-width="3.4" stroke-linecap="round"/><line x1="142.1" y1="441" x2="204.9" y2="441" stroke="#1156DA" stroke-width="3.4" stroke-linecap="round" stroke-dasharray="17.2 5.6"/><g style='font-family:"Liberation Serif",serif' font-size="41.5"><text x="212.6" y="303">300<tspan dx="7.0">K</tspan></text><text x="212.6" y="352.6">400<tspan dx="7.0">K</tspan></text><text x="212.6" y="402.5">Ge-p/Si-n CFET</text><text x="212.6" y="452.3">Si-p/Si-n CFET</text></g>
</svg></body></html>
